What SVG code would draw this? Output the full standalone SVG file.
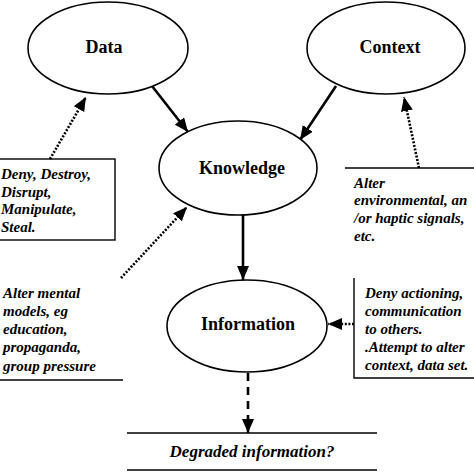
<svg xmlns="http://www.w3.org/2000/svg" width="474" height="474" viewBox="0 0 474 474">
<style>
.node{fill:#fff;stroke:#000;stroke-width:1.6}
.lbl{font-family:"Liberation Serif","Times New Roman",serif;font-weight:bold;font-size:18px;text-anchor:middle;fill:#000}
.note{font-family:"Liberation Serif","Times New Roman",serif;font-weight:bold;font-style:italic;font-size:15px;fill:#000}
.solid{stroke:#000;stroke-width:2.6;fill:none}
.dot{stroke:#000;stroke-width:2.6;fill:none;stroke-dasharray:2 1.6}
.dash{stroke:#000;stroke-width:2.6;fill:none;stroke-dasharray:8 6}
.frame{stroke:#000;stroke-width:1.4;fill:none}
</style>
<defs>
<marker id="ah" markerUnits="userSpaceOnUse" markerWidth="14" markerHeight="12" refX="14" refY="6" orient="auto">
<path d="M0,0 L14,6 L0,12 z" fill="#000"/>
</marker>
</defs>
<rect width="474" height="474" fill="#fff"/>
<g id="connectors">
<line class="solid" x1="152" y1="86" x2="188" y2="132" marker-end="url(#ah)"/>
<line class="solid" x1="336" y1="86" x2="300" y2="140" marker-end="url(#ah)"/>
<line class="solid" x1="243" y1="215" x2="243" y2="280" marker-end="url(#ah)"/>
<line class="dash" x1="248" y1="373" x2="248" y2="433" marker-end="url(#ah)"/>
<line class="dot" x1="50" y1="159" x2="86" y2="97" marker-end="url(#ah)"/>
<line class="dot" x1="121" y1="278" x2="187" y2="207" marker-end="url(#ah)"/>
<line class="dot" x1="419" y1="168" x2="404" y2="97" marker-end="url(#ah)"/>
<line class="dot" x1="354" y1="324" x2="328" y2="324" marker-end="url(#ah)"/>
</g>
<g id="data">
<ellipse class="node" cx="108" cy="48" rx="80" ry="46"/>
<text class="lbl" x="104" y="53">Data</text>
</g>
<g id="context">
<ellipse class="node" cx="386" cy="48" rx="79" ry="46"/>
<text class="lbl" x="390" y="53">Context</text>
</g>
<g id="knowledge">
<ellipse class="node" cx="238" cy="168" rx="79" ry="47"/>
<text class="lbl" x="242" y="174">Knowledge</text>
</g>
<g id="information">
<ellipse class="node" cx="247" cy="326" rx="80" ry="46"/>
<text class="lbl" x="248" y="330">Information</text>
</g>
<g id="note-deny">
<rect class="frame" x="-2" y="159" width="117" height="81"/>
<text class="note" x="1" y="179">Deny, Destroy,</text>
<text class="note" x="1" y="196.5">Disrupt,</text>
<text class="note" x="1" y="214">Manipulate,</text>
<text class="note" x="1" y="231.5">Steal.</text>
</g>
<g id="note-alter-env">
<line class="frame" x1="345" y1="168" x2="474" y2="168"/>
<text class="note" x="354" y="188">Alter</text>
<text class="note" x="354" y="205">environmental, an</text>
<text class="note" x="354" y="223">/or haptic signals,</text>
<text class="note" x="354" y="241">etc.</text>
</g>
<g id="note-mental">
<line class="frame" x1="0" y1="380" x2="123" y2="380"/>
<text class="note" x="3" y="298">Alter mental</text>
<text class="note" x="3" y="316">models, eg</text>
<text class="note" x="3" y="334">education,</text>
<text class="note" x="3" y="352">propaganda,</text>
<text class="note" x="3" y="371">group pressure</text>
</g>
<g id="note-deny-action">
<polyline class="frame" points="354,278 354,378 474,378"/>
<text class="note" x="365" y="298">Deny actioning,</text>
<text class="note" x="365" y="316">communication</text>
<text class="note" x="365" y="334">to others.</text>
<text class="note" x="365" y="352">.Attempt to alter</text>
<text class="note" x="365" y="370">context, data set.</text>
</g>
<g id="degraded">
<line class="frame" x1="127" y1="433" x2="377" y2="433"/>
<line class="frame" x1="127" y1="470" x2="377" y2="470"/>
<text class="note" x="252" y="457" style="font-size:17px;text-anchor:middle">Degraded information?</text>
</g>
</svg>
